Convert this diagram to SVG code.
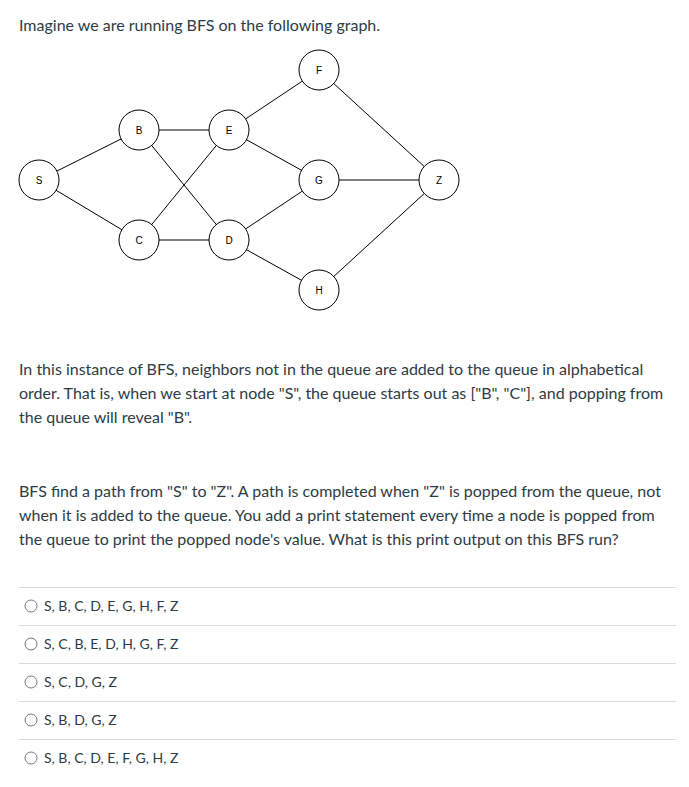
<svg xmlns="http://www.w3.org/2000/svg" width="689" height="787" viewBox="0 0 689 787">
<style>
.t{font-family:Lato,"Liberation Sans",sans-serif;font-size:16px;fill:#2d3b45}
.o{font-family:Lato,"Liberation Sans",sans-serif;font-size:14px;fill:#2d3b45}
.n circle{fill:#fff;stroke:#000;stroke-width:1}
.n text{font-family:"Liberation Sans",Arial,sans-serif;font-size:10px;text-anchor:middle;fill:#000}
#edges line{stroke:#000;stroke-width:1}
.sep{stroke:#d8dadc;stroke-width:1}
.r{fill:#fff;stroke:#777;stroke-width:1}
</style>
<rect width="689" height="787" fill="#fff"/>
<text class="t" x="19" y="31">Imagine we are running BFS on the following graph.</text>
<g id="edges">
<line x1="39" y1="180" x2="139" y2="130"/>
<line x1="39" y1="180" x2="139" y2="240"/>
<line x1="139" y1="130" x2="229" y2="130"/>
<line x1="139" y1="130" x2="229" y2="240"/>
<line x1="139" y1="240" x2="229" y2="130"/>
<line x1="139" y1="240" x2="229" y2="240"/>
<line x1="229" y1="130" x2="319" y2="70"/>
<line x1="229" y1="130" x2="319" y2="180"/>
<line x1="229" y1="240" x2="319" y2="180"/>
<line x1="229" y1="240" x2="319" y2="290"/>
<line x1="319" y1="70" x2="439" y2="180"/>
<line x1="319" y1="180" x2="439" y2="180"/>
<line x1="319" y1="290" x2="439" y2="180"/>
</g>
<g id="S" class="n"><circle cx="39" cy="180" r="20"/><text x="39" y="184">S</text></g>
<g id="B" class="n"><circle cx="139" cy="130" r="20"/><text x="139" y="134">B</text></g>
<g id="E" class="n"><circle cx="229" cy="130" r="20"/><text x="229" y="134">E</text></g>
<g id="C" class="n"><circle cx="139" cy="240" r="20"/><text x="139" y="244">C</text></g>
<g id="D" class="n"><circle cx="229" cy="240" r="20"/><text x="229" y="244">D</text></g>
<g id="F" class="n"><circle cx="319" cy="70" r="20"/><text x="319" y="74">F</text></g>
<g id="G" class="n"><circle cx="319" cy="180" r="20"/><text x="319" y="184">G</text></g>
<g id="H" class="n"><circle cx="319" cy="290" r="20"/><text x="319" y="294">H</text></g>
<g id="Z" class="n"><circle cx="439" cy="180" r="20"/><text x="439" y="184">Z</text></g>
<text class="t" x="19" y="375">In this instance of BFS, neighbors not in the queue are added to the queue in alphabetical</text>
<text class="t" x="19" y="399">order. That is, when we start at node "S", the queue starts out as ["B", "C"], and popping from</text>
<text class="t" x="19" y="423">the queue will reveal "B".</text>
<text class="t" x="19" y="497">BFS find a path from "S" to "Z". A path is completed when "Z" is popped from the queue, not</text>
<text class="t" x="19" y="521">when it is added to the queue. You add a print statement every time a node is popped from</text>
<text class="t" x="19" y="545">the queue to print the popped node's value. What is this print output on this BFS run?</text>
<line class="sep" x1="19" y1="587.5" x2="676" y2="587.5"/>
<line class="sep" x1="19" y1="625.5" x2="676" y2="625.5"/>
<line class="sep" x1="19" y1="663.5" x2="676" y2="663.5"/>
<line class="sep" x1="19" y1="701.5" x2="676" y2="701.5"/>
<line class="sep" x1="19" y1="739.5" x2="676" y2="739.5"/>
<circle class="r" cx="31" cy="606" r="6"/><text class="o" x="44" y="611">S, B, C, D, E, G, H, F, Z</text>
<circle class="r" cx="31" cy="644" r="6"/><text class="o" x="44" y="649">S, C, B, E, D, H, G, F, Z</text>
<circle class="r" cx="31" cy="682" r="6"/><text class="o" x="44" y="687">S, C, D, G, Z</text>
<circle class="r" cx="31" cy="720" r="6"/><text class="o" x="44" y="725">S, B, D, G, Z</text>
<circle class="r" cx="31" cy="758" r="6"/><text class="o" x="44" y="763">S, B, C, D, E, F, G, H, Z</text>
</svg>
